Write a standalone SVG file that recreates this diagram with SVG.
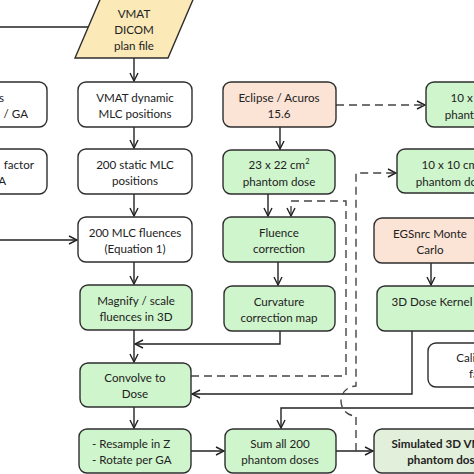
<svg xmlns="http://www.w3.org/2000/svg" width="474" height="474" viewBox="0 0 474 474">
<style>
.box{stroke:#2e2e2e;stroke-width:1.4}
.w{fill:#ffffff}
.g{fill:#cff5cc}
.s{fill:#fbe3d5}
.sim{fill:#e2efda}
.y{fill:#fbe9b8}
text{font-family:Lato,"Open Sans","Liberation Sans",sans-serif;font-size:11.6px;fill:#222}
.c{text-anchor:middle}
.e{text-anchor:end}
.b{font-weight:bold}
.ln{fill:none;stroke:#222;stroke-width:1.4}
.d{stroke-dasharray:8 5;stroke:#444}
</style>
<defs>
<marker id="ah" viewBox="0 0 10 10" refX="9" refY="5" markerWidth="10" markerHeight="10" markerUnits="userSpaceOnUse" orient="auto">
<path d="M1,1 L9,5 L1,9" fill="none" stroke="#222" stroke-width="1.4" stroke-dasharray="none"/>
</marker>
</defs>
<rect width="474" height="474" fill="#ffffff"/>

<g id="connectors">
<path class="ln" d="M0,27 L88,27"/>
<path class="ln" d="M134,58 L134,81" marker-end="url(#ah)"/>
<path class="ln" d="M134,127 L134,148" marker-end="url(#ah)"/>
<path class="ln" d="M134,194 L134,216" marker-end="url(#ah)"/>
<path class="ln" d="M0,240 L77,240" marker-end="url(#ah)"/>
<path class="ln" d="M134,262 L134,284" marker-end="url(#ah)"/>
<path class="ln" d="M134,330 L134,362" marker-end="url(#ah)"/>
<path class="ln" d="M280,331 L280,344 L135,344" marker-end="url(#ah)"/>
<path class="ln" d="M412,331 L412,394 L192,394" marker-end="url(#ah)"/>
<path class="ln" d="M474,408 L281,408 L281,428" marker-end="url(#ah)"/>
<path class="ln" d="M134,407 L134,428" marker-end="url(#ah)"/>
<path class="ln" d="M191,451 L224,451" marker-end="url(#ah)"/>
<path class="ln" d="M336,451 L373,451" marker-end="url(#ah)"/>
<path class="ln" d="M280,127 L280,149" marker-end="url(#ah)"/>
<path class="ln" d="M268,194 L268,216" marker-end="url(#ah)"/>
<path class="ln" d="M278,262 L278,285" marker-end="url(#ah)"/>
<path class="ln" d="M431,263 L431,285" marker-end="url(#ah)"/>
<path class="ln d" d="M336,105 L425,105" marker-end="url(#ah)"/>
<path class="ln d" d="M191,376 L346,376 L346,201 L291,201 L291,216" marker-end="url(#ah)"/>
<path class="ln d" d="M356,451 L356,416 A15,15 0 0 1 356,386 L356,173 L396,173" marker-end="url(#ah)"/>
</g>

<g id="plan-file">
<polygon class="box y" points="102,-5 195,-5 168,58 75,58"/>
<text class="c" x="134" y="18">VMAT</text>
<text class="c" x="134" y="34">DICOM</text>
<text class="c" x="134" y="50">plan file</text>
</g>

<g id="left-box-1">
<rect class="box w" x="-70" y="82" width="117" height="45" rx="8"/>
<text class="e" x="4" y="102">s</text>
<text class="e" x="28" y="118">/ GA</text>
</g>
<g id="left-box-2">
<rect class="box w" x="-70" y="149" width="117" height="45" rx="8"/>
<text class="e" x="34" y="169">factor</text>
<text class="e" x="6" y="185">A</text>
</g>

<g id="vmat-dynamic">
<rect class="box w" x="78" y="82" width="114" height="45" rx="8"/>
<text class="c" x="135" y="102">VMAT dynamic</text>
<text class="c" x="135" y="118">MLC positions</text>
</g>
<g id="static-mlc">
<rect class="box w" x="78" y="149" width="114" height="45" rx="8"/>
<text class="c" x="135" y="169">200 static MLC</text>
<text class="c" x="135" y="185">positions</text>
</g>
<g id="mlc-fluences">
<rect class="box w" x="78" y="217" width="114" height="45" rx="8"/>
<text class="c" x="135" y="237">200 MLC fluences</text>
<text class="c" x="135" y="253">(Equation 1)</text>
</g>
<g id="magnify">
<rect class="box g" x="80" y="285" width="112" height="45" rx="8"/>
<text class="c" x="136" y="305">Magnify / scale</text>
<text class="c" x="136" y="321">fluences in 3D</text>
</g>
<g id="convolve">
<rect class="box g" x="80" y="363" width="111" height="44" rx="8"/>
<text class="c" x="135" y="382">Convolve to</text>
<text class="c" x="135" y="398">Dose</text>
</g>
<g id="resample">
<rect class="box g" x="79" y="429" width="112" height="44" rx="8"/>
<text x="92" y="448">- Resample in Z</text>
<text x="92" y="464">- Rotate per GA</text>
</g>

<g id="eclipse">
<rect class="box s" x="223" y="82" width="113" height="45" rx="8"/>
<text class="c" x="279" y="102">Eclipse / Acuros</text>
<text class="c" x="279" y="118">15.6</text>
</g>
<g id="dose-23x22">
<rect class="box g" x="223" y="150" width="112" height="44" rx="8"/>
<text class="c" x="279" y="169">23 x 22 cm<tspan font-size="7.5" dy="-5">2</tspan></text>
<text class="c" x="279" y="186">phantom dose</text>
</g>
<g id="fluence-correction">
<rect class="box g" x="223" y="217" width="112" height="45" rx="8"/>
<text class="c" x="279" y="237">Fluence</text>
<text class="c" x="279" y="253">correction</text>
</g>
<g id="curvature">
<rect class="box g" x="224" y="286" width="111" height="45" rx="8"/>
<text class="c" x="279" y="306">Curvature</text>
<text class="c" x="279" y="322">correction map</text>
</g>
<g id="sum">
<rect class="box g" x="225" y="429" width="111" height="44" rx="8"/>
<text class="c" x="280" y="448">Sum all 200</text>
<text class="c" x="280" y="464">phantom doses</text>
</g>

<g id="dose-10x10-a">
<rect class="box g" x="426" y="82" width="110" height="45" rx="8"/>
<text class="c" x="481" y="102">10 x 10 cm<tspan font-size="7.5" dy="-5">2</tspan></text>
<text class="c" x="481" y="119">phantom dose</text>
</g>
<g id="dose-10x10-b">
<rect class="box g" x="397" y="149" width="110" height="44" rx="8"/>
<text class="c" x="452" y="169">10 x 10 cm<tspan font-size="7.5" dy="-5">2</tspan></text>
<text class="c" x="452" y="186">phantom dose</text>
</g>
<g id="egsnrc">
<rect class="box s" x="374" y="218" width="113" height="45" rx="8"/>
<text class="c" x="430" y="238">EGSnrc Monte</text>
<text class="c" x="430" y="254">Carlo</text>
</g>
<g id="dose-kernel">
<rect class="box g" x="377" y="286" width="112" height="45" rx="8"/>
<text class="c" x="432" y="306">3D Dose Kernel</text>
</g>
<g id="calibration">
<rect class="box w" x="428" y="343" width="112" height="44" rx="8"/>
<text class="c" x="484" y="362">Calibration</text>
<text class="c" x="484" y="378">factor</text>
</g>
<g id="simulated">
<rect class="box sim" x="374" y="429" width="140" height="44" rx="8"/>
<text class="c b" x="444" y="448">Simulated 3D VMAT</text>
<text class="c b" x="444" y="464">phantom dose</text>
</g>
</svg>
